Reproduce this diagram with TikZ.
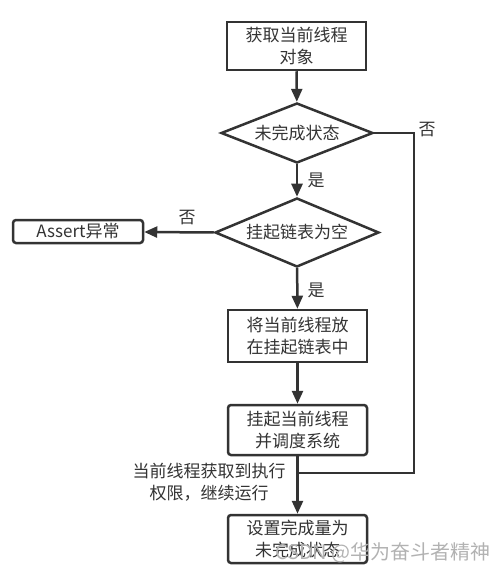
\documentclass[tikz,border=0pt]{standalone}
\usepackage{fontspec}
\setmainfont{Noto Sans CJK SC}
\usetikzlibrary{shapes.geometric,arrows.meta}
\definecolor{dark}{HTML}{333333}
\tikzset{
  x=1pt,y=-1pt,
  txt/.style={font=\fontsize{17}{22.5}\selectfont},
  box/.style={draw=dark, line width=2.5pt, minimum width=139pt, align=center, inner sep=0pt, txt, text=dark},
  dia/.style={diamond, draw=dark, line width=2.5pt, inner sep=0pt},
  conn/.style={draw=dark, line width=2.5pt, -{Triangle[length=13pt,width=11pt]}},
  plain/.style={draw=dark, line width=2.5pt},
  lbl/.style={txt, text=dark, align=center, inner sep=0pt},
}
\begin{document}
\begin{tikzpicture}
\useasboundingbox (0,0) rectangle (503,575);
\node[box, minimum height=48pt] (b1) at (296.5,46) {获取当前线程\\对象};
\node[dia, minimum width=152pt, minimum height=60pt] (d1) at (297,133) {};
\node[lbl] (d1t) at (d1.center) {未完成状态};
\node[dia, minimum width=164pt, minimum height=69pt] (d2) at (297,232.5) {};
\node[lbl] (d2t) at (d2.center) {挂起链表为空};
\node[box, minimum width=130pt, minimum height=23pt, rounded corners=3pt] (as) at (78,231.5) {Assert异常};
\node[box, minimum height=52pt] (b3) at (297.5,336) {将当前线程放\\在挂起链表中};
\node[box, minimum height=50pt, rounded corners=3pt] (b4) at (297.5,430) {挂起当前线程\\并调度系统};
\node[box, minimum height=48pt, rounded corners=3pt] (b5) at (297.5,539) {设置完成量为\\未完成状态};
\coordinate (j) at (297.5,473);
\coordinate (r) at (414,473);
\draw[conn] (b1) -- (d1);
\draw[conn] (d1) -- (d2);
\draw[conn] (d2.west) -- (as);
\draw[conn] (d2) -- (b3);
\draw[conn] (b3) -- (b4);
\draw[conn] (b4) -- (b5);
\draw[plain] (d1.east) -| (r) -- (j);
\node[lbl] (n1) at (427,130) {否};
\node[lbl] (y1) at (316,180) {是};
\node[lbl] (n2) at (187,218) {否};
\node[lbl] (y2) at (316,290) {是};
\node[lbl] (t) at (209,482) {当前线程获取到执行\\权限，继续运行};
\node[lbl, text=black!30, font=\fontsize{20}{24}\selectfont, anchor=east] (wm) at (491,553) {CSDN @华为奋斗者精神};
\end{tikzpicture}
\end{document}
